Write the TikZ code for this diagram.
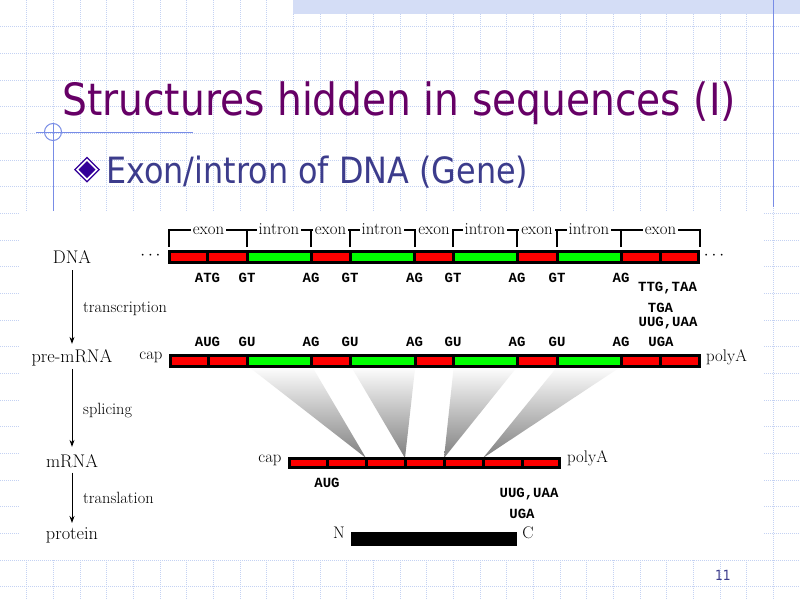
\documentclass[tikz,border=0pt]{standalone}
\usepackage{fontspec}
\newfontfamily\slidefont[FakeStretch=0.88]{DejaVu Sans}
\newfontfamily\codefont{Liberation Mono}
\usetikzlibrary{arrows.meta}
\definecolor{gridblue}{RGB}{196,210,243}
\definecolor{titlepurple}{RGB}{102,0,102}
\definecolor{subblue}{RGB}{60,60,140}
\definecolor{linkblue}{RGB}{120,140,230}
\definecolor{bandblue}{RGB}{212,221,246}
\definecolor{bulletblue}{RGB}{51,0,153}
\definecolor{exonred}{RGB}{255,0,0}
\definecolor{introngreen}{RGB}{0,255,0}
\begin{document}
\begin{tikzpicture}[x=1pt,y=-1pt,
  gridline/.style={gridblue,line width=0.8pt,dash pattern=on 1pt off 1pt},
  deco/.style={linkblue,line width=1pt},
  seg/.style={rectangle,draw=black,line width=3pt,inner sep=0pt,outer sep=0pt},
  bracketline/.style={line width=2pt},
  bracketlabel/.style={fill=white,inner xsep=2pt,inner ysep=1pt,font=\fontsize{16.8}{19}\selectfont,anchor=base},
  code/.style={font=\codefont\bfseries\fontsize{14}{16}\selectfont,inner sep=0pt,anchor=base},
  stage/.style={font=\fontsize{18.3}{21}\selectfont,inner sep=0pt,anchor=base},
  process/.style={font=\fontsize{16.3}{19}\selectfont,inner sep=0pt,anchor=base west},
  small/.style={font=\fontsize{16.8}{19}\selectfont,inner sep=0pt},
  flow/.style={-{Stealth[length=7pt,width=5pt]},line width=0.9pt},
  fan/.style={top color=white,bottom color=black!50}
]
\useasboundingbox (0,0) rectangle (800,600);
\fill[white] (0,0) rectangle (800,600);
% slide grid
\foreach \k in {1,...,29} \draw[gridline] ({\k*80/3},0) -- ({\k*80/3},600);
\foreach \k in {1,...,22} \draw[gridline] (0,{\k*80/3}) -- (800,{\k*80/3});
\fill[bandblue] (293,0) rectangle (800,14);
\fill[white] (20,212) rectangle (763,560);
% decorations
\draw[deco] (773,0) -- (773,207);
\draw[deco] (36,132) -- (193,132);
\draw[deco] (53,132) circle (8.5);
\draw[deco] (53,124) -- (53,211);
% title
\node[anchor=base west,inner sep=0pt,text=titlepurple,font=\slidefont\fontsize{44.5}{50}\selectfont] (title) at (62,115) {Structures hidden in sequences (I)};
\fill[bulletblue] (87,156.5) -- (100,169.5) -- (87,182.5) -- (74,169.5) -- cycle;
\fill[white] (87,158.5) -- (98,169.5) -- (87,180.5) -- (76,169.5) -- cycle;
\fill[bulletblue] (87,161) -- (95.5,169.5) -- (87,178) -- (78.5,169.5) -- cycle;
\node[anchor=base west,inner sep=0pt,text=subblue,font=\slidefont\fontsize{36.2}{40}\selectfont] (subtitle) at (106,183) {Exon/intron of DNA (Gene)};
\node[anchor=base east,inner sep=0pt,text=subblue,font=\slidefont\fontsize{14}{16}\selectfont] (pagenum) at (731,580) {11};
% left column
\node[stage] (dna) at (72,263) {DNA};
\node[stage] (pre) at (72,362) {pre-mRNA};
\node[stage] (mrna) at (72,467) {mRNA};
\node[stage] (protein) at (72,539) {protein};
\draw[flow,shorten <=7pt,shorten >=5pt] (dna.south) -- (pre.north);
\draw[flow,shorten <=3pt,shorten >=7pt] (pre.south) -- (mrna.north);
\draw[flow,shorten <=5pt,shorten >=4pt] (mrna.south) -- (protein.north);
\node[process] (transcription) at (83,312) {transcription};
\node[process] (splicing) at (83,414) {splicing};
\node[process] (translation) at (83,503) {translation};
% bars
\foreach \a/\b/\c [count=\i] in {169.5/207.5/exonred,207.5/247/exonred,247/311/introngreen,311/350/exonred,350/414.5/introngreen,414.5/453/exonred,453/517/introngreen,517/557/exonred,557/621/introngreen,621/660/exonred,660/698.5/exonred}{
  \pgfmathsetmacro\w{\b-\a}
  \pgfmathsetmacro\m{(\a+\b)/2}
  \node[seg,fill=\c,minimum width=\w pt,minimum height=10.5pt] (d\i) at (\m,257) {};
  \node[seg,fill=\c,minimum width=\w pt,minimum height=10.5pt] (p\i) at (\m+0.8,360.8) {};
}
\foreach \a/\b [count=\i] in {289.5/327,327/366,366/405,405/444,444/483,483/522,522/559.5}{
  \pgfmathsetmacro\w{\b-\a}
  \pgfmathsetmacro\m{(\a+\b)/2}
  \node[seg,fill=exonred,minimum width=\w pt,minimum height=9.5pt] (m\i) at (\m,462.8) {};
}
% splicing fans
\shade[fan] (p3.south west) -- (p3.south east) -- (m2.north east) -- cycle;
\shade[fan] (p5.south west) -- (p5.south east) -- (m3.north east) -- cycle;
\shade[fan] (p7.south west) -- (p7.south east) -- (m4.north east) -- cycle;
\shade[fan] (p9.south west) -- (p9.south east) -- (m5.north east) -- cycle;
% redraw pre-mRNA and mRNA bars over fans
\foreach \a/\b/\c [count=\i] in {169.5/207.5/exonred,207.5/247/exonred,247/311/introngreen,311/350/exonred,350/414.5/introngreen,414.5/453/exonred,453/517/introngreen,517/557/exonred,557/621/introngreen,621/660/exonred,660/698.5/exonred}{
  \pgfmathsetmacro\w{\b-\a}
  \pgfmathsetmacro\m{(\a+\b)/2}
  \node[seg,fill=\c,minimum width=\w pt,minimum height=10.5pt] (q\i) at (\m+0.8,360.8) {};
}
\foreach \a/\b [count=\i] in {289.5/327,327/366,366/405,405/444,444/483,483/522,522/559.5}{
  \pgfmathsetmacro\w{\b-\a}
  \pgfmathsetmacro\m{(\a+\b)/2}
  \node[seg,fill=exonred,minimum width=\w pt,minimum height=9.5pt] (n\i) at (\m,462.8) {};
}
% brackets
\foreach \a/\b in {168.5/247,247/311,311/350,350/414.5,414.5/453,453/517,517/557,557/621,621/699.5}
  \draw[bracketline] (\a,247) -- (\a,230) -- (\b,230) -- (\b,247);
\node[bracketlabel] (ex1) at (208.5,234) {exon};
\node[bracketlabel] (in1) at (279,234) {intron};
\node[bracketlabel] (ex2) at (330.5,234) {exon};
\node[bracketlabel] (in2) at (382,234) {intron};
\node[bracketlabel] (ex3) at (434,234) {exon};
\node[bracketlabel] (in3) at (485,234) {intron};
\node[bracketlabel] (ex4) at (537,234) {exon};
\node[bracketlabel] (in4) at (589,234) {intron};
\node[bracketlabel] (ex5) at (660.5,234) {exon};
% dots
\node[small,anchor=base] (dotsL) at (150.5,259) {$\cdots$};
\node[small,anchor=base] (dotsR) at (714,259) {$\cdots$};
% DNA codes
\node[code] (dATG) at (207.5,282) {ATG};
\node[code] (dGT1) at (247,282) {GT};
\node[code] (dAG1) at (311,282) {AG};
\node[code] (dGT2) at (350,282) {GT};
\node[code] (dAG2) at (414.5,282) {AG};
\node[code] (dGT3) at (453,282) {GT};
\node[code] (dAG3) at (517,282) {AG};
\node[code] (dGT4) at (557,282) {GT};
\node[code] (dAG4) at (621,282) {AG};
\node[code] (dstop1) at (667.5,291) {TTG,TAA};
\node[code] (dstop2) at (660.5,312) {TGA};
\node[code] (pstop1) at (668,326) {UUG,UAA};
% pre-mRNA codes
\node[code] (pAUG) at (207.5,346) {AUG};
\node[code] (pGU1) at (247,346) {GU};
\node[code] (pAG1) at (311,346) {AG};
\node[code] (pGU2) at (350,346) {GU};
\node[code] (pAG2) at (414.5,346) {AG};
\node[code] (pGU3) at (453,346) {GU};
\node[code] (pAG3) at (517,346) {AG};
\node[code] (pGU4) at (557,346) {GU};
\node[code] (pAG4) at (621,346) {AG};
\node[code] (pstop2) at (661,346) {UGA};
% side labels
\node[small,anchor=base] (capP) at (151,359) {cap};
\node[small,anchor=base west] (polyP) at (706,361) {polyA};
\node[small,anchor=base] (capM) at (270,462) {cap};
\node[small,anchor=base west] (polyM) at (567,462) {polyA};
% mRNA codes
\node[code] (mAUG) at (327,487) {AUG};
\node[code] (mstop1) at (529,497) {UUG,UAA};
\node[code] (mstop2) at (522,518) {UGA};
% protein
\node[fill=black,minimum width=166pt,minimum height=14pt,inner sep=0pt] (pbar) at (434,539) {};
\node[small,anchor=base] (nterm) at (339,538) {N};
\node[small,anchor=base] (cterm) at (528,538) {C};
\end{tikzpicture}
\end{document}
